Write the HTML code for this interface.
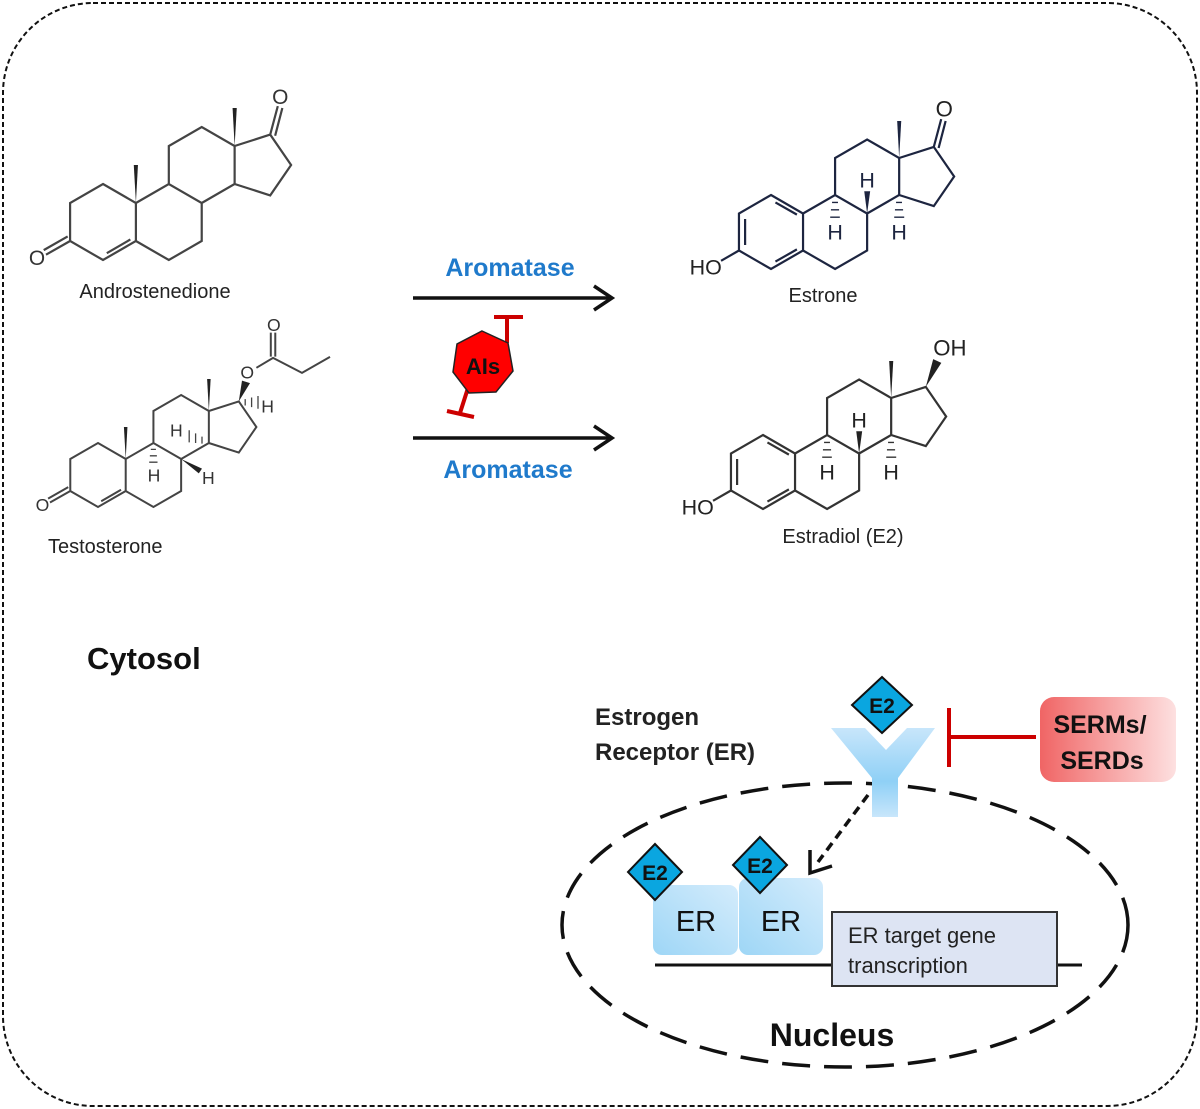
<!DOCTYPE html>
<html><head><meta charset="utf-8"><style>
html,body{margin:0;padding:0;background:#fff}
svg{display:block}
text{font-family:"Liberation Sans",Arial,sans-serif}
</style></head><body>
<svg width="1200" height="1109" viewBox="0 0 1200 1109" xmlns="http://www.w3.org/2000/svg">
<defs>
<linearGradient id="gY" x1="0" y1="0" x2="0" y2="1"><stop offset="0" stop-color="#c8e6fb"/><stop offset="0.6" stop-color="#8fd0f6"/><stop offset="1" stop-color="#c8e6fb"/></linearGradient>
<linearGradient id="gER" x1="0" y1="1" x2="1" y2="0"><stop offset="0" stop-color="#9ed6f6"/><stop offset="1" stop-color="#d4ecfc"/></linearGradient>
<linearGradient id="gS" x1="0" y1="0" x2="1" y2="0"><stop offset="0" stop-color="#f06565"/><stop offset="1" stop-color="#fde0e0"/></linearGradient>
</defs>
<rect x="3" y="3" width="1194" height="1103" rx="90" fill="none" stroke="#111" stroke-width="2" stroke-dasharray="5,3"/>

<!-- Androstenedione -->
<g transform="translate(103,222) scale(38)" fill="none" stroke="#444">
<path vector-effect="non-scaling-stroke" stroke-width="2.2" d="M0,-1L0.866,-0.5L0.866,0.5L0,1L-0.866,0.5L-0.866,-0.5Z M0.866,-0.5L1.732,-1L2.598,-0.5L2.598,0.5L1.732,1L0.866,0.5 M1.732,-1L1.732,-2L2.598,-2.5L3.464,-2L3.464,-1L2.598,-0.5 M3.464,-2L4.4,-2.3L4.95,-1.5L4.4,-0.7L3.464,-1 M0.1,0.82L0.72,0.46 M-0.866,0.5L-1.5,0.86 M-0.93,0.38L-1.56,0.74 M4.4,-2.3L4.6,-3.05 M4.53,-2.27L4.72,-3.0"/>
<polygon fill="#222" stroke="none" points="0.866,-0.5 0.81,-1.5 0.92,-1.5"/>
<polygon fill="#222" stroke="none" points="3.464,-2 3.41,-3.0 3.52,-3.0"/>
<text x="-1.95" y="1.13" font-size="0.55" fill="#333" stroke="none">O</text>
<text x="4.45" y="-3.1" font-size="0.55" fill="#333" stroke="none">O</text>
</g>
<text x="155" y="298" font-size="20" text-anchor="middle" fill="#222">Androstenedione</text>

<!-- Testosterone -->
<g transform="translate(98,475) scale(32)" fill="none" stroke="#444">
<path vector-effect="non-scaling-stroke" stroke-width="2" d="M0,-1L0.866,-0.5L0.866,0.5L0,1L-0.866,0.5L-0.866,-0.5Z M0.866,-0.5L1.732,-1L2.598,-0.5L2.598,0.5L1.732,1L0.866,0.5 M1.732,-1L1.732,-2L2.598,-2.5L3.464,-2L3.464,-1L2.598,-0.5 M3.464,-2L4.4,-2.3L4.95,-1.5L4.4,-0.7L3.464,-1 M0.1,0.82L0.72,0.46 M-0.866,0.5L-1.5,0.86 M-0.93,0.38L-1.56,0.74 M4.95,-3.35L5.47,-3.66L6.375,-3.19L7.25,-3.69 M5.4,-3.7L5.4,-4.45 M5.54,-3.7L5.54,-4.45"/>
<polygon fill="#222" stroke="none" points="0.866,-0.5 0.81,-1.5 0.92,-1.5"/>
<polygon fill="#222" stroke="none" points="3.464,-2 3.41,-3.0 3.52,-3.0"/>
<polygon fill="#222" stroke="none" points="4.4,-2.3 4.5,-2.95 4.75,-2.87"/>
<polygon fill="#222" stroke="none" points="2.598,-0.5 3.15,-0.05 3.25,-0.2"/>
<path vector-effect="non-scaling-stroke" stroke-width="1.3" d="M4.6,-2.37L4.6,-2.17 M4.8,-2.42L4.8,-2.12 M5.0,-2.47L5.0,-2.07 M1.65,-0.8L1.81,-0.8 M1.62,-0.6L1.84,-0.6 M1.6,-0.4L1.86,-0.4 M3.25,-1.2L3.25,-0.98 M3.05,-1.3L3.05,-1.0 M2.85,-1.4L2.85,-1.02"/>
<text x="1.55" y="0.2" font-size="0.55" fill="#333" stroke="none">H</text>
<text x="3.25" y="0.28" font-size="0.55" fill="#333" stroke="none">H</text>
<text x="2.25" y="-1.2" font-size="0.55" fill="#333" stroke="none">H</text>
<text x="5.1" y="-1.95" font-size="0.55" fill="#333" stroke="none">H</text>
<text x="-1.95" y="1.13" font-size="0.55" fill="#333" stroke="none">O</text>
<text x="4.45" y="-3.02" font-size="0.55" fill="#333" stroke="none">O</text>
<text x="5.28" y="-4.5" font-size="0.55" fill="#333" stroke="none">O</text>
</g>
<text x="48" y="553" font-size="20" fill="#222">Testosterone</text>

<!-- Estrone -->
<g transform="translate(771,232) scale(37)" fill="none" stroke="#1d2540">
<path vector-effect="non-scaling-stroke" stroke-width="2.2" d="M0,-1L0.866,-0.5L0.866,0.5L0,1L-0.866,0.5L-0.866,-0.5Z M0.866,-0.5L1.732,-1L2.598,-0.5L2.598,0.5L1.732,1L0.866,0.5 M1.732,-1L1.732,-2L2.598,-2.5L3.464,-2L3.464,-1L2.598,-0.5 M3.464,-2L4.4,-2.3L4.95,-1.5L4.4,-0.7L3.464,-1 M-0.7,-0.35L-0.7,0.35 M0.12,-0.8L0.7,-0.47 M0.7,0.47L0.12,0.8 M-0.866,0.5L-1.35,0.78 M4.4,-2.3L4.6,-3.05 M4.53,-2.27L4.72,-3.0"/>
<polygon fill="#1d2540" stroke="none" points="3.464,-2 3.41,-3.0 3.52,-3.0"/>
<polygon fill="#1d2540" stroke="none" points="2.598,-0.5 2.52,-1.1 2.68,-1.1"/>
<path vector-effect="non-scaling-stroke" stroke-width="1.4" d="M1.65,-0.8L1.81,-0.8 M1.62,-0.6L1.84,-0.6 M1.6,-0.4L1.86,-0.4 M3.38,-0.8L3.54,-0.8 M3.35,-0.6L3.57,-0.6 M3.33,-0.4L3.6,-0.4"/>
<text x="1.732" y="0.2" font-size="0.58" text-anchor="middle" fill="#1d2540" stroke="none">H</text>
<text x="3.464" y="0.2" font-size="0.58" text-anchor="middle" fill="#1d2540" stroke="none">H</text>
<text x="2.598" y="-1.2" font-size="0.58" text-anchor="middle" fill="#1d2540" stroke="none">H</text>
<text x="-2.2" y="1.15" font-size="0.58" fill="#222" stroke="none">HO</text>
<text x="4.45" y="-3.12" font-size="0.6" fill="#222" stroke="none">O</text>
</g>
<text x="823" y="302" font-size="20" text-anchor="middle" fill="#222">Estrone</text>

<!-- Estradiol -->
<g transform="translate(763,472) scale(37)" fill="none" stroke="#333">
<path vector-effect="non-scaling-stroke" stroke-width="2.2" d="M0,-1L0.866,-0.5L0.866,0.5L0,1L-0.866,0.5L-0.866,-0.5Z M0.866,-0.5L1.732,-1L2.598,-0.5L2.598,0.5L1.732,1L0.866,0.5 M1.732,-1L1.732,-2L2.598,-2.5L3.464,-2L3.464,-1L2.598,-0.5 M3.464,-2L4.4,-2.3L4.95,-1.5L4.4,-0.7L3.464,-1 M-0.7,-0.35L-0.7,0.35 M0.12,-0.8L0.7,-0.47 M0.7,0.47L0.12,0.8 M-0.866,0.5L-1.35,0.78"/>
<polygon fill="#222" stroke="none" points="3.464,-2 3.41,-3.0 3.52,-3.0"/>
<polygon fill="#222" stroke="none" points="2.598,-0.5 2.52,-1.1 2.68,-1.1"/>
<polygon fill="#222" stroke="none" points="4.4,-2.3 4.6,-3.05 4.82,-2.95"/>
<path vector-effect="non-scaling-stroke" stroke-width="1.4" d="M1.65,-0.8L1.81,-0.8 M1.62,-0.6L1.84,-0.6 M1.6,-0.4L1.86,-0.4 M3.38,-0.8L3.54,-0.8 M3.35,-0.6L3.57,-0.6 M3.33,-0.4L3.6,-0.4"/>
<text x="1.732" y="0.2" font-size="0.58" text-anchor="middle" fill="#222" stroke="none">H</text>
<text x="3.464" y="0.2" font-size="0.58" text-anchor="middle" fill="#222" stroke="none">H</text>
<text x="2.598" y="-1.2" font-size="0.58" text-anchor="middle" fill="#222" stroke="none">H</text>
<text x="-2.2" y="1.15" font-size="0.58" fill="#222" stroke="none">HO</text>
<text x="4.6" y="-3.15" font-size="0.6" fill="#222" stroke="none">OH</text>
</g>
<text x="843" y="543" font-size="20" text-anchor="middle" fill="#222">Estradiol (E2)</text>

<!-- Aromatase arrows -->
<text x="510" y="276" font-size="25" font-weight="bold" text-anchor="middle" fill="#1f7acb">Aromatase</text>
<line x1="413" y1="298" x2="610" y2="298" stroke="#111" stroke-width="3.5"/>
<path d="M594,286 L612,298 L594,310" fill="none" stroke="#111" stroke-width="3.5"/>
<line x1="413" y1="438" x2="610" y2="438" stroke="#111" stroke-width="3.5"/>
<path d="M594,426 L612,438 L594,450" fill="none" stroke="#111" stroke-width="3.5"/>
<text x="508" y="478" font-size="25" font-weight="bold" text-anchor="middle" fill="#1f7acb">Aromatase</text>

<!-- AIs -->
<path d="M507,343 L507,318 M494,317 L523,317" stroke="#c00" stroke-width="4" fill="none"/>
<path d="M468,388 L460,413 M447,411 L474,417" stroke="#c00" stroke-width="4" fill="none"/>
<polygon points="482,331 508,343 513,371 496,392 469,393 453,372 457,344" fill="#f00" stroke="#222" stroke-width="1.5"/>
<text x="483" y="374" font-size="22" font-weight="bold" text-anchor="middle" fill="#111">AIs</text>

<text x="87" y="669" font-size="31" font-weight="bold" fill="#111">Cytosol</text>

<!-- Nucleus -->
<ellipse cx="845" cy="925" rx="283" ry="142" fill="none" stroke="#111" stroke-width="3.5" stroke-dasharray="28,14"/>
<text x="832" y="1046" font-size="32" font-weight="bold" text-anchor="middle" fill="#111">Nucleus</text>

<text x="595" y="725" font-size="24" font-weight="bold" fill="#222">Estrogen</text>
<text x="595" y="760" font-size="24" font-weight="bold" fill="#222">Receptor (ER)</text>

<!-- Y receptor -->
<polygon points="831,728 865,728 886,750 907,728 935,728 898,778 898,817 872,817 872,778" fill="url(#gY)"/>
<polygon points="882,677 912,705 882,733 852,705" fill="#0aa6e0" stroke="#111" stroke-width="2"/>
<text x="882" y="713" font-size="21" font-weight="bold" text-anchor="middle" fill="#111">E2</text>

<!-- SERMs -->
<path d="M949,708 L949,767 M949,737 L1036,737" stroke="#c00" stroke-width="4" fill="none"/>
<rect x="1040" y="697" width="136" height="85" rx="14" fill="url(#gS)"/>
<text x="1100" y="733" font-size="25" font-weight="bold" text-anchor="middle" fill="#111">SERMs/</text>
<text x="1102" y="769" font-size="25" font-weight="bold" text-anchor="middle" fill="#111">SERDs</text>

<!-- dashed arrow -->
<line x1="868" y1="795" x2="818" y2="862" stroke="#111" stroke-width="3.5" stroke-dasharray="9,6"/>
<path d="M810,850 L810,873 L832,866" fill="none" stroke="#111" stroke-width="3.5"/>

<!-- DNA & ER -->
<line x1="655" y1="965" x2="1082" y2="965" stroke="#111" stroke-width="3"/>
<rect x="653" y="885" width="85" height="70" rx="9" fill="url(#gER)"/>
<rect x="739" y="878" width="84" height="77" rx="9" fill="url(#gER)"/>
<text x="696" y="931" font-size="29" text-anchor="middle" fill="#111">ER</text>
<text x="781" y="931" font-size="29" text-anchor="middle" fill="#111">ER</text>
<polygon points="655,844 682,872 655,900 628,872" fill="#0aa6e0" stroke="#111" stroke-width="2"/>
<text x="655" y="880" font-size="21" font-weight="bold" text-anchor="middle" fill="#111">E2</text>
<polygon points="760,837 787,865 760,893 733,865" fill="#0aa6e0" stroke="#111" stroke-width="2"/>
<text x="760" y="873" font-size="21" font-weight="bold" text-anchor="middle" fill="#111">E2</text>
<rect x="832" y="912" width="225" height="74" fill="#dde4f3" stroke="#333" stroke-width="2"/>
<text x="848" y="943" font-size="22" fill="#222">ER target gene</text>
<text x="848" y="973" font-size="22" fill="#222">transcription</text>
</svg>
</body></html>
